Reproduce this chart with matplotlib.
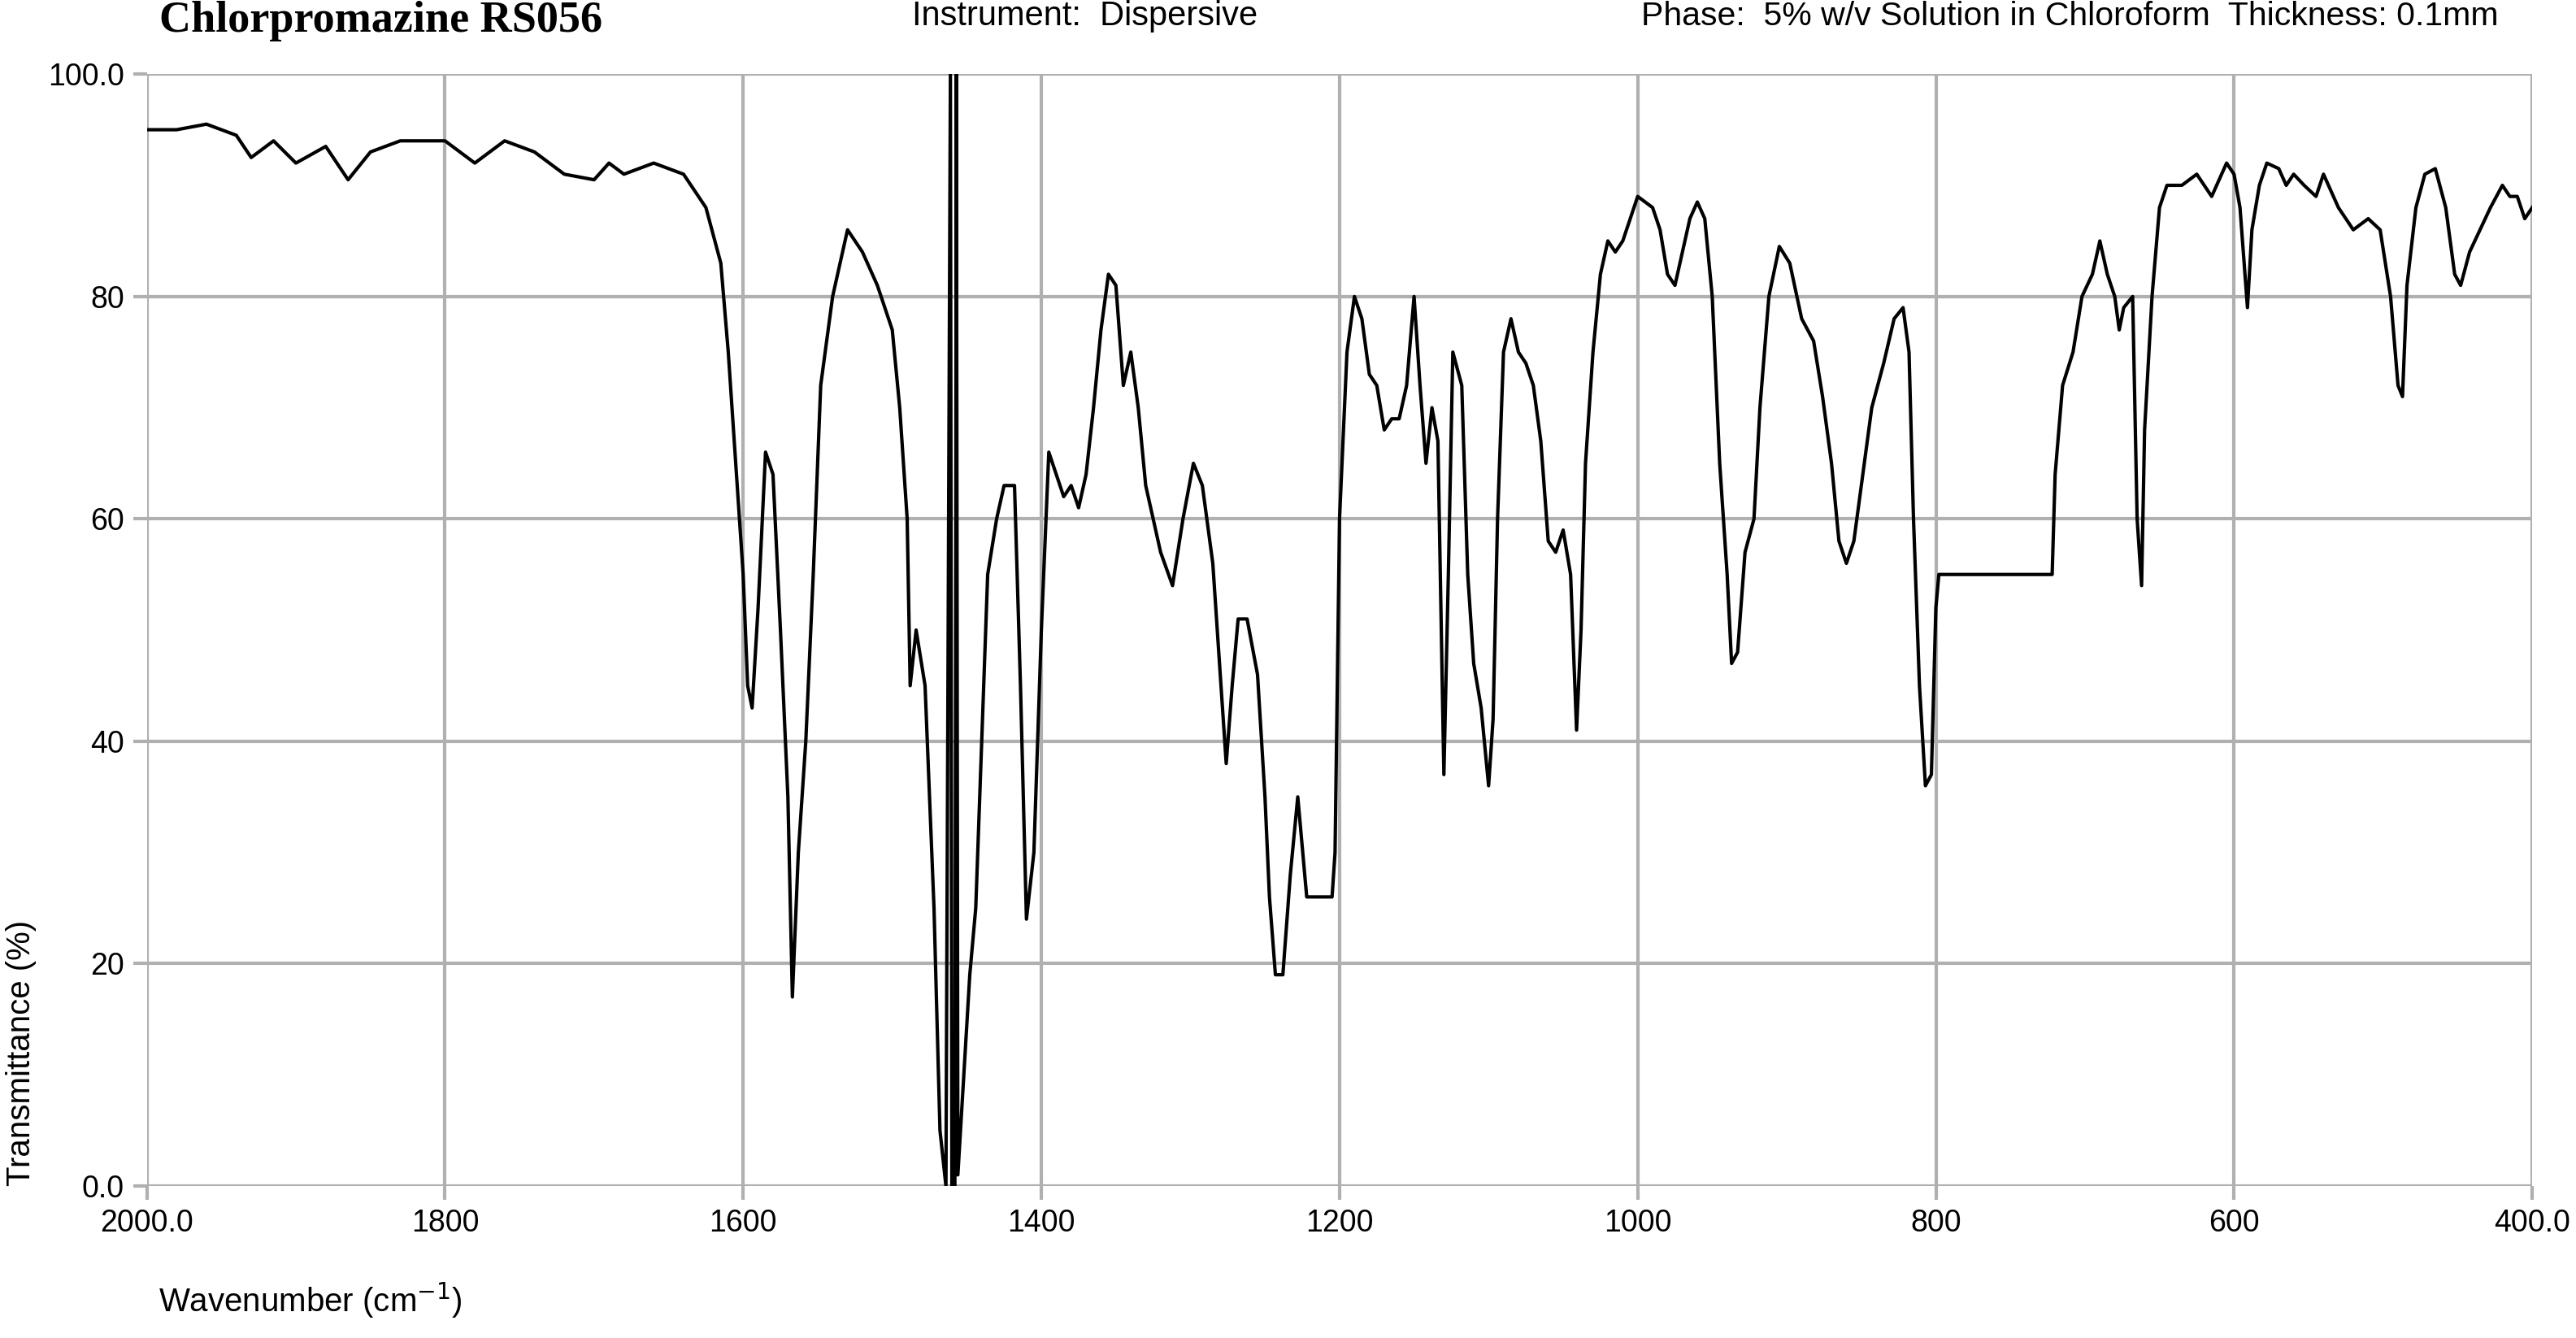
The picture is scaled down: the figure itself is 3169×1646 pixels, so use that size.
import matplotlib
matplotlib.use("Agg")
import matplotlib.pyplot as plt

wn = [2000,1980,1960,1940,1930,1915,1900,1880,1865,1850,1830,1800,1780,1760,1740,1720,1700,1690,1680,1660,1640,1625,1615,1610,1605,1600,1597,1594,1590,1585,1580,1575,1570,1567,1563,1558,1553,1548,1540,1530,1520,1510,1500,1495,1490,1488,1484,1478,1472,1468,1464,1461,1460,1458,1457,1456,1452,1448,1444,1440,1436,1430,1425,1418,1414,1410,1405,1400,1395,1390,1385,1380,1375,1370,1365,1360,1355,1350,1345,1340,1335,1330,1320,1312,1305,1298,1292,1285,1280,1276,1272,1268,1262,1255,1250,1247,1243,1238,1233,1228,1222,1210,1205,1203,1200,1195,1190,1185,1180,1175,1170,1165,1160,1155,1150,1146,1142,1138,1134,1130,1127,1124,1118,1114,1110,1105,1100,1097,1094,1090,1085,1080,1075,1070,1065,1060,1055,1050,1045,1041,1038,1035,1030,1025,1020,1015,1010,1005,1000,990,985,980,975,970,965,960,955,950,945,940,937,933,928,922,918,912,905,898,890,882,876,870,865,860,855,850,843,835,828,822,818,815,811,807,803,800,798,780,760,740,722,720,715,708,702,695,690,685,680,677,674,668,665,662,660,655,650,645,635,625,615,605,600,596,591,588,583,578,570,565,560,553,545,540,530,520,510,502,495,490,487,484,478,472,465,458,452,448,442,435,428,420,415,410,405,400]
tr = [95,95,95.5,94.5,92.5,94,92,93.5,90.5,93,94,94,92,94,93,91,90.5,92,91,92,91,88,83,75,65,55,45,43,52,66,64,50,35,17,30,40,55,72,80,86,84,81,77,70,60,45,50,45,25,5,0,100,0,0,100,1,10,19,25,40,55,60,63,63,45,24,30,50,66,64,62,63,61,64,70,77,82,81,72,75,70,63,57,54,60,65,63,56,46,38,45,51,51,46,35,26,19,19,28,35,26,26,26,30,60,75,80,78,73,72,68,69,69,72,80,72,65,70,67,37,55,75,72,55,47,43,36,42,60,75,78,75,74,72,67,58,57,59,55,41,50,65,75,82,85,84,85,87,89,88,86,82,81,84,87,88.5,87,80,65,55,47,48,57,60,70,80,84.5,83,78,76,71,65,58,56,58,63,70,74,78,79,75,60,45,36,37,52,55,55,55,55,55,64,72,75,80,82,85,82,80,77,79,80,60,54,68,80,88,90,90,91,89,92,91,88,79,86,90,92,91.5,90,91,90,89,91,88,86,87,86,80,72,71,81,88,91,91.5,88,82,81,84,86,88,90,89,89,87,88]

xticks = [2000, 1800, 1600, 1400, 1200, 1000, 800, 600, 400]
xlabels = ["2000.0", "1800", "1600", "1400", "1200", "1000", "800", "600", "400.0"]
yticks = [0, 20, 40, 60, 80, 100]
ylabels = ["0.0", "20", "40", "60", "80", "100.0"]

plt.rcParams['font.family'] = ['Liberation Sans', 'DejaVu Sans']
fig = plt.figure(figsize=(31.69, 16.46), dpi=100)
ax = fig.add_axes([0.057, 0.1136, 0.926, 0.831])
ax.plot(wn, tr, color='black', lw=3.0)
ax.set_xlim(2000, 400)
ax.set_ylim(0, 100)
ax.set_xticks(xticks)
ax.set_xticklabels(xlabels)
ax.set_yticks(yticks)
ax.set_yticklabels(ylabels)
ax.grid(True, color='#b0b0b0', lw=3)
for s in ax.spines.values():
    s.set_visible(False)
ax.tick_params(axis='both', labelsize=27, length=12, width=3, color='#b0b0b0', pad=8)
ax.set_xlabel("Wavenumber (cm$^{-1}$)", fontsize=29, loc='left', labelpad=14)
ax.xaxis.set_label_coords(0.005, -0.085)
ax.set_ylabel("Transmittance (%)", fontsize=29, loc='bottom', labelpad=10)
fig.text(0.062, 0.984, "Chlorpromazine RS056", fontsize=39, fontweight='bold', family='Liberation Serif', va='center')
fig.text(0.354, 0.988, "Instrument:  Dispersive", fontsize=30, va='center')
fig.text(0.637, 0.988, "Phase:  5% w/v Solution in Chloroform  Thickness: 0.1mm", fontsize=29.5, va='center')
fig.savefig("out.png", dpi=100)
